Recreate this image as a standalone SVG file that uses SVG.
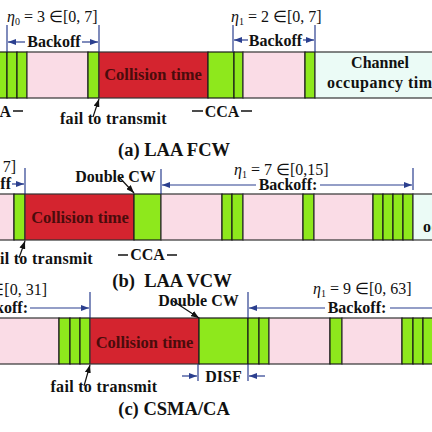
<svg xmlns="http://www.w3.org/2000/svg" width="432" height="432" viewBox="0 0 432 432">
<defs>
<marker id="ab" markerWidth="8" markerHeight="6" refX="8" refY="3" orient="auto" markerUnits="userSpaceOnUse"><path d="M0,0 L8,3 L0,6 z" fill="#2b3f8f"/></marker>
<marker id="ak" markerWidth="8" markerHeight="6" refX="8" refY="3" orient="auto" markerUnits="userSpaceOnUse"><path d="M0,0 L8,3 L0,6 z" fill="#111"/></marker>
<style>
.g{fill:#8ee81c;stroke:#1a1a1a;stroke-width:1.2}
.p{fill:#fadce6;stroke:#333;stroke-width:1.2}
.r{fill:#d4242f;stroke:#333;stroke-width:1.2}
.c{fill:#ebfbf6;stroke:#333;stroke-width:1.2}
.t{font-family:'Liberation Serif','Times New Roman',serif;font-weight:bold;font-size:16px;fill:#111}
.ct{font-family:'Liberation Serif','Times New Roman',serif;font-weight:bold;font-size:16.5px;fill:#4a0c0c}
.cap{font-family:'Liberation Serif','Times New Roman',serif;font-weight:bold;font-size:18.5px;fill:#111}
.e{font-family:'Liberation Serif','Times New Roman',serif;font-size:16px;fill:#111}
.bl{stroke:#2b3f8f;stroke-width:1.2;fill:none}
.ba{stroke:#2b3f8f;stroke-width:1.2;fill:none;marker-end:url(#ab)}
.ka{stroke:#111;stroke-width:1.2;fill:none;marker-end:url(#ak)}
.d{stroke:#111;stroke-width:1.5}
</style>
</defs>

<g id="rowA">
<rect class="g" x="-2" y="52" width="9" height="46"/>
<rect class="g" x="7" y="52" width="10" height="46"/>
<rect class="g" x="17" y="52" width="10" height="46"/>
<rect class="p" x="27" y="52" width="61" height="46"/>
<rect class="g" x="88" y="52" width="11" height="46"/>
<rect class="r" x="99" y="52" width="109" height="46"/>
<rect class="g" x="208" y="52" width="26" height="46"/>
<rect class="g" x="234" y="52" width="9" height="46"/>
<rect class="p" x="243" y="52" width="62" height="46"/>
<rect class="g" x="305" y="52" width="10" height="46"/>
<rect class="c" x="315" y="52" width="120" height="46"/>
<text class="ct" x="153" y="80" text-anchor="middle">Collision time</text>
<text class="t" x="380" y="68" text-anchor="middle">Channel</text>
<text class="t" x="327" y="88" letter-spacing="0.5">occupancy time</text>
<text class="e" x="7" y="22"><tspan font-style="italic">η</tspan><tspan font-size="10" dy="3">0</tspan><tspan dy="-3"> = 3 ∈[0, 7]</tspan></text>
<text class="e" x="231" y="22"><tspan font-style="italic">η</tspan><tspan font-size="10" dy="3">1</tspan><tspan dy="-3"> = 2 ∈[0, 7]</tspan></text>
<text class="t" x="54" y="47" text-anchor="middle">Backoff</text>
<text class="t" x="275.5" y="46" text-anchor="middle">Backoff</text>
<text class="t" x="11" y="117" text-anchor="end">CCA</text>
<text class="t" x="222" y="117" text-anchor="middle">CCA</text>
<text class="t" x="113.5" y="124" text-anchor="middle" letter-spacing="0.3">fail to transmit</text>
<text class="cap" x="174" y="156" text-anchor="middle">(a) LAA FCW</text>
</g>

<g id="rowB">
<rect class="p" x="-2" y="194" width="16" height="46"/>
<rect class="g" x="14" y="194" width="11" height="46"/>
<rect class="r" x="25" y="194" width="109" height="46"/>
<rect class="g" x="134" y="194" width="27" height="46"/>
<rect class="p" x="161" y="194" width="61" height="46"/>
<rect class="g" x="222" y="194" width="10" height="46"/>
<rect class="g" x="232" y="194" width="11" height="46"/>
<rect class="p" x="243" y="194" width="60" height="46"/>
<rect class="g" x="303" y="194" width="11" height="46"/>
<rect class="p" x="314" y="194" width="59" height="46"/>
<rect class="g" x="373" y="194" width="10" height="46"/>
<rect class="g" x="383" y="194" width="10" height="46"/>
<rect class="g" x="393" y="194" width="10" height="46"/>
<rect class="g" x="403" y="194" width="10" height="46"/>
<rect class="c" x="413" y="194" width="22" height="46"/>
<text class="ct" x="80" y="223" text-anchor="middle">Collision time</text>
<text class="t" x="423" y="232" letter-spacing="0.5">occupancy time</text>
<text class="e" x="16" y="172" text-anchor="end">∈[0, 7]</text>
<text class="t" x="11" y="189" text-anchor="end">Backoff</text>
<text class="t" x="115.5" y="182" text-anchor="middle">Double CW</text>
<text class="e" x="234" y="175"><tspan font-style="italic">η</tspan><tspan font-size="10" dy="3">1</tspan><tspan dy="-3"> = 7 ∈[0,15]</tspan></text>
<text class="t" x="288" y="190" text-anchor="middle">Backoff:</text>
<text class="t" x="147.5" y="260" text-anchor="middle">CCA</text>
<text class="t" x="39.5" y="264" text-anchor="middle" letter-spacing="0.3">fail to transmit</text>
<text class="cap" x="172" y="287" text-anchor="middle" xml:space="preserve">(b)  LAA VCW</text>
</g>

<g id="rowC">
<rect class="p" x="-2" y="318" width="61" height="46"/>
<rect class="g" x="59" y="318" width="11" height="46"/>
<rect class="g" x="70" y="318" width="10" height="46"/>
<rect class="g" x="80" y="318" width="10" height="46"/>
<rect class="r" x="90" y="318" width="109" height="46"/>
<rect class="g" x="199" y="318" width="49" height="46"/>
<rect class="g" x="248" y="318" width="11" height="46"/>
<rect class="g" x="259" y="318" width="10" height="46"/>
<rect class="p" x="269" y="318" width="61" height="46"/>
<rect class="g" x="330" y="318" width="12" height="46"/>
<rect class="p" x="342" y="318" width="60" height="46"/>
<rect class="g" x="402" y="318" width="11" height="46"/>
<rect class="g" x="413" y="318" width="10" height="46"/>
<rect class="g" x="423" y="318" width="12" height="46"/>
<text class="ct" x="144.5" y="348" text-anchor="middle">Collision time</text>
<text class="e" x="47" y="295" text-anchor="end">∈[0, 31]</text>
<text class="t" x="28" y="313" text-anchor="end">Backoff:</text>
<text class="t" x="198.5" y="306" text-anchor="middle">Double CW</text>
<text class="e" x="313" y="294"><tspan font-style="italic">η</tspan><tspan font-size="10" dy="3">1</tspan><tspan dy="-3"> = 9 ∈[0, 63]</tspan></text>
<text class="t" x="357" y="313" text-anchor="middle">Backoff:</text>
<text class="t" x="223.5" y="382" text-anchor="middle">DISF</text>
<text class="t" x="104" y="392" text-anchor="middle" letter-spacing="0.3">fail to transmit</text>
<text class="cap" x="174" y="415" text-anchor="middle">(c) CSMA/CA</text>
</g>

<g id="connectors">
<!-- row A -->
<line class="bl" x1="7" y1="25" x2="7" y2="52"/>
<line class="bl" x1="99" y1="25" x2="99" y2="52"/>
<line class="ba" x1="25" y1="42" x2="8" y2="42"/>
<line class="ba" x1="82" y1="42" x2="98" y2="42"/>
<line class="bl" x1="233" y1="25" x2="233" y2="52"/>
<line class="bl" x1="315" y1="25" x2="315" y2="52"/>
<line class="ba" x1="248" y1="40" x2="234" y2="40"/>
<line class="ba" x1="303" y1="40" x2="314" y2="40"/>
<line class="d" x1="13" y1="111" x2="23" y2="111"/>
<line class="d" x1="192" y1="111" x2="203" y2="111"/>
<line class="d" x1="241" y1="111" x2="252" y2="111"/>
<line class="ka" x1="93" y1="117" x2="99" y2="99"/>
<!-- row B -->
<line class="bl" x1="25" y1="168" x2="25" y2="194"/>
<line class="ba" x1="12" y1="184" x2="24" y2="184"/>
<line class="bl" x1="161" y1="169" x2="161" y2="194"/>
<line class="ba" x1="256" y1="185" x2="162" y2="185"/>
<line class="ba" x1="320" y1="185" x2="412" y2="185"/>
<line class="bl" x1="413" y1="168" x2="413" y2="190"/>
<line class="ka" x1="118" y1="176" x2="134" y2="193"/>
<line class="d" x1="118" y1="255" x2="128" y2="255"/>
<line class="d" x1="167" y1="255" x2="177" y2="255"/>
<line class="ka" x1="19" y1="258" x2="25" y2="241"/>
<!-- row C -->
<line class="bl" x1="90" y1="292" x2="90" y2="318"/>
<line class="ba" x1="30" y1="308" x2="89" y2="308"/>
<line class="bl" x1="248" y1="292" x2="248" y2="318"/>
<line class="ba" x1="325" y1="308" x2="249" y2="308"/>
<line class="bl" x1="390" y1="308" x2="432" y2="308"/>
<line class="ka" x1="173" y1="301" x2="199" y2="318"/>
<line class="bl" x1="198" y1="364" x2="198" y2="381"/>
<line class="bl" x1="248" y1="364" x2="248" y2="381"/>
<line class="ba" x1="182" y1="376" x2="197" y2="376"/>
<line class="ba" x1="265" y1="376" x2="249" y2="376"/>
<line class="ka" x1="84" y1="386" x2="90" y2="365"/>
</g>
</svg>
